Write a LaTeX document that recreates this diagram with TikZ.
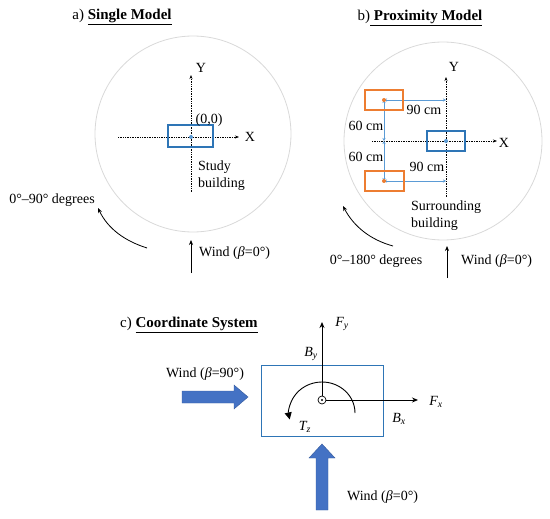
\documentclass[tikz,border=0pt]{standalone}
\usepackage{fontspec}
\setmainfont{Liberation Serif}
\usetikzlibrary{arrows.meta}
\definecolor{bblue}{HTML}{2E75B6}
\definecolor{borange}{HTML}{ED7D31}
\definecolor{arrblue}{HTML}{4472C4}
\definecolor{lblue}{HTML}{5B9BD5}
\definecolor{cgray}{HTML}{D9D9D9}
\tikzset{
  txt/.style={font=\fontsize{14}{17}\selectfont, inner sep=0pt, text depth=0pt},
  ttl/.style={font=\fontsize{15}{18}\selectfont, inner sep=0pt},
  ring/.style={draw=cgray, line width=0.8pt},
  axis/.style={densely dotted, line width=0.7pt, -{Stealth[length=4pt,width=3pt]}},
  bldg/.style={draw=bblue, line width=1.1pt, inner sep=0pt},
  sbldg/.style={draw=borange, line width=1.1pt, inner sep=0pt},
  dim/.style={draw=lblue, line width=0.8pt, {Stealth[length=3pt,width=3pt]}-{Stealth[length=3pt,width=3pt]}},
  thinarrow/.style={line width=0.7pt, -{Stealth[length=5pt,width=4pt]}},
  curvarrow/.style={line width=0.8pt, -{Stealth[length=5pt,width=4pt]}},
  force/.style={line width=0.9pt, -{Stealth[length=6pt,width=5pt]}},
  bigarrow/.style={fill=arrblue, draw=arrblue!80!black, line width=0.4pt},
}
\begin{document}
\begin{tikzpicture}[x=1pt,y=-1pt]
\useasboundingbox (0,0) rectangle (550,519);

% ---------------- a) Single Model
\node[ttl] (ta) at (122,17) {a) \textbf{\underline{Single Model}}};
\node[ring, circle, minimum size=196pt, inner sep=0pt] (ca) at (193,134) {};
\coordinate (ayb) at (191,192);
\coordinate (ayt) at (191,75);
\coordinate (axl) at (118,137);
\coordinate (axr) at (239,137);
\draw[axis] (ayb) -- (ayt);
\draw[axis] (axl) -- (axr);
\node[txt] (aY) at (201,68) {Y};
\node[txt] (aX) at (250,137) {X};
\node[bldg, minimum width=45pt, minimum height=22pt] (ba) at (190.5,136) {};
\fill[lblue] (191,137) circle (2pt);
\node[txt] (a00) at (209,119) {(0,0)};
\node[txt, anchor=west, align=left] (asb) at (198,174.5) {Study\\building};
\node[txt] (adeg) at (52,199) {0°–90° degrees};
\coordinate (acs) at (147,248);
\coordinate (ace) at (98,208);
\draw[curvarrow] (acs) .. controls (125,241) and (108,229) .. (ace);
\coordinate (awb) at (191,273);
\coordinate (awt) at (191,240);
\draw[thinarrow] (awb) -- (awt);
\node[txt, anchor=west] (aw) at (199,252) {Wind (\textit{β}=0°)};

% ---------------- b) Proximity Model
\node[ttl] (tb) at (420,18) {b)\textbf{\underline{ Proximity Model}}};
\node[ring, circle, minimum size=198pt, inner sep=0pt] (cb) at (443,141) {};
\coordinate (byb) at (446,197);
\coordinate (byt) at (446,77);
\coordinate (bxl) at (372,141);
\coordinate (bxr) at (497,141);
\draw[axis] (byb) -- (byt);
\draw[axis] (bxl) -- (bxr);
\node[txt] (bY) at (454,67) {Y};
\node[txt] (bX) at (504,143) {X};
\coordinate (d1) at (384,100);
\coordinate (d2) at (384,141);
\coordinate (d3) at (384,181);
\coordinate (e1) at (446,100);
\coordinate (e3) at (446,181);
\draw[dim] (d1) -- (e1);
\draw[dim] (d1) -- (d2);
\draw[dim] (d2) -- (d3);
\draw[dim] (d3) -- (e3);
\node[bldg, minimum width=38pt, minimum height=20pt] (bb) at (446,141) {};
\node[sbldg, minimum width=38pt, minimum height=20pt] (so1) at (384,100) {};
\node[sbldg, minimum width=39pt, minimum height=20pt] (so2) at (384.5,181) {};
\fill[borange] (d1) circle (2pt);
\fill[borange] (d3) circle (2pt);
\fill[lblue] (446,141) circle (2pt);
\node[txt] (b90a) at (424,110) {90 cm};
\node[txt] (b60a) at (366,126) {60 cm};
\node[txt] (b60b) at (366,157) {60 cm};
\node[txt] (b90b) at (427,167) {90 cm};
\node[txt, anchor=west, align=left] (bsb) at (411,214) {Surrounding\\building};
\node[txt] (bdeg) at (376,260) {0°–180° degrees};
\coordinate (bcs) at (393,246);
\coordinate (bce) at (343,206);
\draw[curvarrow] (bcs) .. controls (371,240) and (354,227) .. (bce);
\coordinate (bwb) at (447,278);
\coordinate (bwt) at (447,246);
\draw[thinarrow] (bwb) -- (bwt);
\node[txt, anchor=west] (bw) at (461,260) {Wind (\textit{β}=0°)};

% ---------------- c) Coordinate System
\node[ttl, anchor=west] (tc) at (120,325) {c) \textbf{\underline{Coordinate System}}};
\node[draw=bblue, line width=1pt, minimum width=122pt, minimum height=71pt, inner sep=0pt] (bc) at (322,400.5) {};
\node[draw, circle, line width=0.7pt, minimum size=8pt, inner sep=0pt] (o) at (322,400) {};
\fill (322,400) circle (1.2pt);
\coordinate (fyt) at (322,322);
\coordinate (fxr) at (418,400);
\draw[force] (o.north) -- (fyt);
\draw[force] (o.east) -- (fxr);
\node[txt] (Fy) at (342,322) {\textit{F\textsubscript{y}}};
\node[txt] (Fx) at (436,401) {\textit{F\textsubscript{x}}};
\node[txt] (By) at (311,352) {\textit{B\textsubscript{y}}};
\node[txt] (Bx) at (399,418) {\textit{B\textsubscript{x}}};
\node[txt] (Tz) at (305,426) {\textit{T\textsubscript{z}}};
\draw[line width=0.9pt, -{Triangle[length=7pt,width=7pt]}] (355,413) arc[start angle=0, end angle=192, x radius=33pt, y radius=31pt];
\node[txt] (w90) at (205,373) {Wind (\textit{β}=90°)};
\node[txt, anchor=west] (w0) at (347,496) {Wind (\textit{β}=0°)};
% big wind arrows
\draw[bigarrow] (182,391) -- (234,391) -- (234,385) -- (248,397) -- (234,409) -- (234,403) -- (182,403) -- cycle;
\draw[bigarrow] (316,510) -- (316,458) -- (309,458) -- (322,444) -- (335,458) -- (328,458) -- (328,510) -- cycle;
\end{tikzpicture}
\end{document}
